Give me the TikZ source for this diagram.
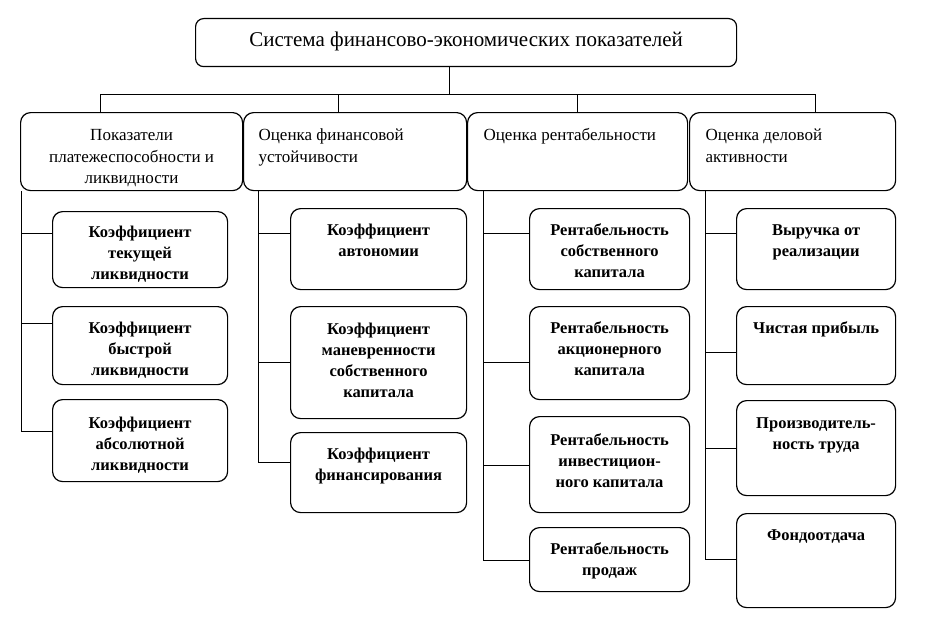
\documentclass[tikz,border=0pt]{standalone}
\usepackage{fontspec}
\setmainfont{Liberation Serif}
\usetikzlibrary{calc}
\newcommand\cbox[4]{\parbox[c][#2pt][t]{#1pt}{\centering\rule{0pt}{#3pt}#4}}
\newcommand\lbox[5]{\parbox[c][#2pt][t]{#1pt}{\raggedright\leftskip=#4pt\rule{0pt}{#3pt}#5}}
\tikzset{
  basebox/.style={draw, rounded corners=10pt, line width=1.2pt, inner sep=0pt, anchor=north west},
  titlebox/.style={basebox, rounded corners=8pt, font=\fontsize{21}{25}\selectfont},
  headbox/.style={basebox, font=\fontsize{17}{21.5}\selectfont},
  itembox/.style={basebox, font=\fontsize{16.5}{21}\selectfont\bfseries},
  link/.style={line width=1pt}
}
\begin{document}
\begin{tikzpicture}[x=1pt,y=-1pt]
\useasboundingbox (0,0) rectangle (937,626);
% title
\node[titlebox] (sys) at (195,18) {\cbox{541}{48}{28}{Система финансово-экономических показателей}};
% level 2
\node[headbox] (l1) at (20,112) {\cbox{222}{78}{28}{Показатели\\платежеспособности и\\ликвидности}};
\node[headbox] (l2) at (243,112) {\lbox{223}{78}{28}{15}{Оценка финансовой\\устойчивости}};
\node[headbox] (l3) at (467,112) {\lbox{220}{78}{28}{16}{Оценка рентабельности}};
\node[headbox] (l4) at (689,112) {\lbox{206}{78}{28}{16}{Оценка деловой\\активности}};
% column 1
\node[itembox] (c11) at (52,211) {\cbox{175}{76}{26}{Коэффициент\\текущей\\ликвидности}};
\node[itembox] (c12) at (52,306) {\cbox{175}{78}{27}{Коэффициент\\быстрой\\ликвидности}};
\node[itembox] (c13) at (52,399) {\cbox{175}{82}{29}{Коэффициент\\абсолютной\\ликвидности}};
% column 2
\node[itembox] (c21) at (290,208) {\cbox{176}{81}{27}{Коэффициент\\автономии}};
\node[itembox] (c22) at (290,306) {\cbox{176}{112}{28}{Коэффициент\\маневренности\\собственного\\капитала}};
\node[itembox] (c23) at (290,432) {\cbox{176}{80}{27}{Коэффициент\\финансирования}};
% column 3
\node[itembox] (c31) at (529,208) {\cbox{160}{81}{27}{Рентабельность\\собственного\\капитала}};
\node[itembox] (c32) at (529,306) {\cbox{160}{93}{27}{Рентабельность\\акционерного\\капитала}};
\node[itembox] (c33) at (529,416) {\cbox{160}{96}{29}{Рентабельность\\инвестицион-\\ного капитала}};
\node[itembox] (c34) at (529,527) {\cbox{160}{64}{27}{Рентабельность\\продаж}};
% column 4
\node[itembox] (c41) at (736,208) {\cbox{159}{81}{27}{Выручка от\\реализации}};
\node[itembox] (c42) at (736,306) {\cbox{159}{78}{27}{Чистая прибыль}};
\node[itembox] (c43) at (736,400) {\cbox{159}{95}{28}{Производитель-\\ность труда}};
\node[itembox] (c44) at (736,513) {\cbox{159}{94}{27}{Фондоотдача}};
% bus from title
\coordinate (bus) at (449,94);
\coordinate (d1) at (100,94);
\coordinate (d2) at (338,94);
\coordinate (d3) at (577,94);
\coordinate (d4) at (815,94);
\draw[link] (sys.south -| bus) -- (bus);
\draw[link] (d1) -- (d4);
\foreach \d/\l in {d1/l1,d2/l2,d3/l3,d4/l4}{
  \draw[link] (\d) -- (\d |- \l.north);
}
% branch points
\coordinate (b11) at (21,233);
\coordinate (b12) at (21,323);
\coordinate (b13) at (21,431);
\coordinate (b21) at (258,233);
\coordinate (b22) at (258,362);
\coordinate (b23) at (258,462);
\coordinate (b31) at (483,233);
\coordinate (b32) at (483,362);
\coordinate (b33) at (483,465);
\coordinate (b34) at (483,560);
\coordinate (b41) at (705,233);
\coordinate (b42) at (705,352);
\coordinate (b43) at (705,448);
\coordinate (b44) at (705,559);
% trunks
\draw[link] (l1.south -| b11) -- (b13);
\draw[link] (l2.south -| b21) -- (b23);
\draw[link] (l3.south -| b31) -- (b34);
\draw[link] (l4.south -| b41) -- (b44);
% branches
\foreach \b/\c in {b11/c11,b12/c12,b13/c13,b21/c21,b22/c22,b23/c23,b31/c31,b32/c32,b33/c33,b34/c34,b41/c41,b42/c42,b43/c43,b44/c44}{
  \draw[link] (\b) -- (\b -| \c.west);
}
\end{tikzpicture}
\end{document}
